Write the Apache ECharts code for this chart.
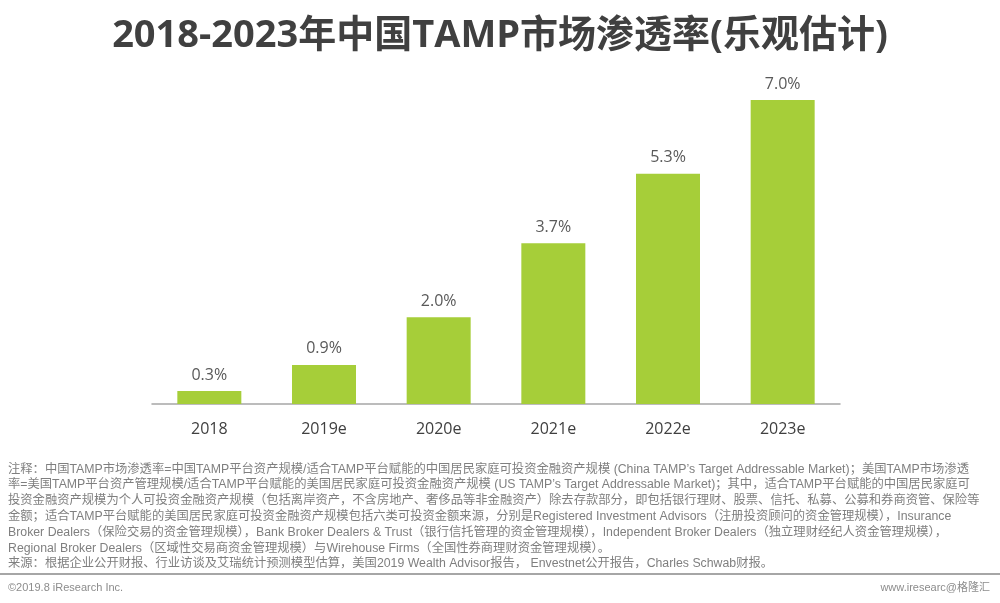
<!DOCTYPE html>
<html><head><meta charset="utf-8">
<script src="https://cdn.jsdelivr.net/npm/echarts@6/dist/echarts.min.js"></script>
<style>html,body{margin:0;padding:0;background:#fff}#c{width:1000px;height:603px}</style>
</head><body><div id="c"></div>
<script>
const categories = ['2018','2019e','2020e','2021e','2022e','2023e'];
const values = [0.3, 0.9, 2.0, 3.7, 5.3, 7.0];
const titleText = '2018-2023年中国TAMP市场渗透率(乐观估计)';
const noteLines = [
 '注释：中国TAMP市场渗透率=中国TAMP平台资产规模/适合TAMP平台赋能的中国居民家庭可投资金融资产规模 (China TAMP’s Target Addressable Market)；美国TAMP市场渗透',
 '率=美国TAMP平台资产管理规模/适合TAMP平台赋能的美国居民家庭可投资金融资产规模 (US TAMP’s Target Addressable Market)；其中，适合TAMP平台赋能的中国居民家庭可',
 '投资金融资产规模为个人可投资金融资产规模（包括离岸资产，不含房地产、奢侈品等非金融资产）除去存款部分，即包括银行理财、股票、信托、私募、公募和券商资管、保险等',
 '金额；适合TAMP平台赋能的美国居民家庭可投资金融资产规模包括六类可投资金额来源，分别是Registered Investment Advisors（注册投资顾问的资金管理规模），Insurance',
 'Broker Dealers（保险交易的资金管理规模），Bank Broker Dealers & Trust（银行信托管理的资金管理规模），Independent Broker Dealers（独立理财经纪人资金管理规模），',
 'Regional Broker Dealers（区域性交易商资金管理规模）与Wirehouse Firms（全国性券商理财资金管理规模）。',
 '来源：根据企业公开财报、行业访谈及艾瑞统计预测模型估算，美国2019 Wealth Advisor报告， Envestnet公开报告，Charles Schwab财报。'
];
const footLeft = '©2019.8 iResearch Inc.';
const footRight = 'www.iresearc@格隆汇';

const chart = echarts.init(document.getElementById('c'), null, {renderer:'canvas'});
const noteFont = '"Liberation Sans","Noto Sans CJK SC",sans-serif';
const graphics = noteLines.map((t,i)=>({
  type:'text', left:8, top:463 + i*15.8,
  style:{text:t, fill:'#7f7f7f', font:'12.3px ' + noteFont}
}));
graphics.push({type:'rect', shape:{x:0,y:573,width:1000,height:2}, style:{fill:'#a6a6a6'}});
graphics.push({type:'text', left:8, top:582, style:{text:footLeft, fill:'#8c8c8c', font:'11px ' + noteFont}});
graphics.push({type:'text', right:10, top:582, style:{text:footRight, fill:'#8c8c8c', font:'11px ' + noteFont}});

chart.setOption({
  animation:false,
  title:{text:titleText, left:'center', top:12,
    textStyle:{fontSize:38, fontWeight:'bold', color:'#404040', fontFamily:'"Open Sans","Noto Sans CJK SC",sans-serif'}},
  grid:{left:152, right:160, top:100, bottom:199},
  xAxis:{type:'category', data:categories,
    axisLine:{lineStyle:{color:'#a6a6a6', width:1.5}},
    axisTick:{show:false},
    axisLabel:{color:'#404040', fontSize:16, margin:17, fontFamily:'"Open Sans",sans-serif'}},
  yAxis:{type:'value', min:0, max:7, show:false, splitLine:{show:false}},
  series:[{type:'bar', data:values, barWidth:64,
    itemStyle:{color:'#a6ce39'},
    label:{show:true, position:'top', distance:8, color:'#595959', fontSize:16,
      fontFamily:'"Open Sans",sans-serif', formatter:p=>p.value.toFixed(1)+'%'}}],
  graphic:graphics
});
</script></body></html>
